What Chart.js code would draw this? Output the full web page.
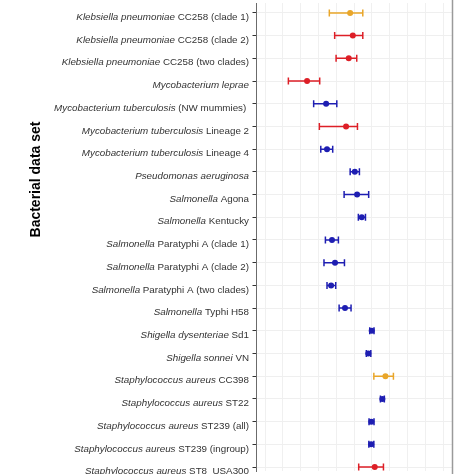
<!DOCTYPE html>
<html><head><meta charset="utf-8">
<script src="https://cdn.jsdelivr.net/npm/chart.js@4"></script>
<style>html,body{margin:0;padding:0;background:#fff;overflow:hidden}#wrap{width:474px;height:474px;position:relative}</style>
</head><body><div id="wrap"><canvas id="c"></canvas></div>
<script>
// Data (italic species part, regular strain part)
const speciesNames = [
  'Klebsiella pneumoniae','Klebsiella pneumoniae','Klebsiella pneumoniae',
  'Mycobacterium leprae','Mycobacterium tuberculosis','Mycobacterium tuberculosis',
  'Mycobacterium tuberculosis','Pseudomonas aeruginosa','Salmonella','Salmonella',
  'Salmonella','Salmonella','Salmonella','Salmonella','Shigella dysenteriae',
  'Shigella sonnei','Staphylococcus aureus','Staphylococcus aureus',
  'Staphylococcus aureus','Staphylococcus aureus','Staphylococcus aureus'
];
const strainNames = [
  'CC258 (clade 1)','CC258 (clade 2)','CC258 (two clades)',
  '','(NW mummies) ','Lineage 2','Lineage 4','','Agona','Kentucky',
  'Paratyphi A (clade 1)','Paratyphi A (clade 2)','Paratyphi A (two clades)','Typhi H58',
  'Sd1','VN','CC398','ST22','ST239 (all)','ST239 (ingroup)','ST8_USA300'
];
const estimates = [4.78,4.93,4.70,2.36,3.43,4.55,3.48,5.04,5.17,5.43,3.76,3.93,3.71,4.49,5.99,5.80,6.76,6.59,5.97,5.96,6.16];
const lowerCI   = [3.61,3.91,3.99,1.31,2.73,3.05,3.13,4.78,4.44,5.24,3.39,3.31,3.48,4.16,5.88,5.69,6.11,6.48,5.84,5.83,5.26];
const upperCI   = [5.49,5.49,5.15,3.07,4.03,5.19,3.80,5.30,5.82,5.64,4.12,4.46,3.97,4.83,6.12,5.94,7.21,6.70,6.12,6.11,6.65];
const groups    = ['A','B','B','B','C','B','C','C','C','C','C','C','C','C','C','C','A','C','C','C','B'];
const groupOrder = ['A','B','C'];
const xGridValues = [0,1,2,3,4,5,6,7,8,9,10];
const axisTitle = 'Bacterial data set';

// Styles
const groupColors = {A:'#E9A62A', B:'#DD1F27', C:'#1E1EB2'};
const FONT = '"Liberation Sans", Arial, sans-serif';

const datasets = groupOrder.map(g => ({
  label: g,
  data: estimates.map((v, i) => groups[i] === g ? {x: v, y: i} : null).filter(Boolean),
  backgroundColor: groupColors[g],
  borderColor: groupColors[g],
  pointRadius: 3,
  pointBorderWidth: 0,
  pointHoverRadius: 3
}));

const errorBars = {
  id: 'errorBars',
  beforeDatasetsDraw(chart) {
    const ctx = chart.ctx, xs = chart.scales.x, ys = chart.scales.y;
    ctx.save();
    ctx.lineWidth = 1.5;
    estimates.forEach((v, i) => {
      const y = ys.getPixelForValue(i);
      const x1 = xs.getPixelForValue(lowerCI[i]);
      const x2 = xs.getPixelForValue(upperCI[i]);
      ctx.strokeStyle = groupColors[groups[i]];
      ctx.beginPath();
      ctx.moveTo(x1, y); ctx.lineTo(x2, y);
      ctx.moveTo(x1, y - 3.5); ctx.lineTo(x1, y + 3.5);
      ctx.moveTo(x2, y - 3.5); ctx.lineTo(x2, y + 3.5);
      ctx.stroke();
    });
    ctx.restore();
  }
};

const labelsPlugin = {
  id: 'labelsPlugin',
  afterDraw(chart) {
    const ctx = chart.ctx, ys = chart.scales.y, area = chart.chartArea;
    ctx.save();
    // right panel border
    ctx.strokeStyle = '#9a9a9a';
    ctx.lineWidth = 1.5;
    ctx.beginPath();
    ctx.moveTo(area.right + 0.5, 0); ctx.lineTo(area.right + 0.5, chart.height);
    ctx.stroke();
    // category labels with italic species names
    const right = area.left - 7.5;
    const fI = 'italic 9.8px ' + FONT, fN = '9.8px ' + FONT;
    ctx.fillStyle = '#333';
    ctx.textBaseline = 'alphabetic';
    ctx.textAlign = 'left';
    speciesNames.forEach((sp, i) => {
      const py = ys.getPixelForValue(i) + 7.2;
      const rest = strainNames[i] ? ' ' + strainNames[i] : '';
      ctx.font = fN; const wN = ctx.measureText(rest).width;
      ctx.font = fI; const wI = ctx.measureText(sp).width;
      const x0 = right - wN - wI;
      ctx.font = fI; ctx.fillText(sp, x0, py);
      ctx.font = fN; ctx.fillText(rest, x0 + wI, py);
    });
    // axis title
    ctx.translate(36, 179.5);
    ctx.rotate(-Math.PI / 2);
    ctx.font = 'bold 14px ' + FONT;
    ctx.fillStyle = '#000';
    ctx.textAlign = 'center';
    ctx.textBaseline = 'middle';
    ctx.fillText(axisTitle, 0, 0);
    ctx.restore();
  }
};

new Chart(document.getElementById('c'), {
  type: 'scatter',
  data: { datasets },
  options: {
    responsive: true,
    maintainAspectRatio: false,
    animation: false,
    events: [],
    layout: { padding: { left: 252.5, right: 22, top: 0, bottom: 0 } },
    plugins: { legend: { display: false }, tooltip: { enabled: false } },
    scales: {
      x: {
        type: 'linear', min: -0.48, max: 10.5,
        afterBuildTicks: s => { s.ticks = xGridValues.map(v => ({value: v})); },
        ticks: { display: false },
        grid: { color: '#f0f0f0', lineWidth: 1, drawTicks: false },
        border: { display: false }
      },
      y: {
        type: 'linear', reverse: true, min: -0.435, max: 20.174,
        afterBuildTicks: s => { s.ticks = speciesNames.map((_, i) => ({value: i})); },
        ticks: { display: false },
        grid: { color: '#efefef', lineWidth: 1, drawTicks: true, tickLength: 4, tickColor: '#333', tickWidth: 1 },
        border: { display: true, color: '#6b6b6b', width: 1 }
      }
    }
  },
  plugins: [errorBars, labelsPlugin]
});
</script>
</body></html>
